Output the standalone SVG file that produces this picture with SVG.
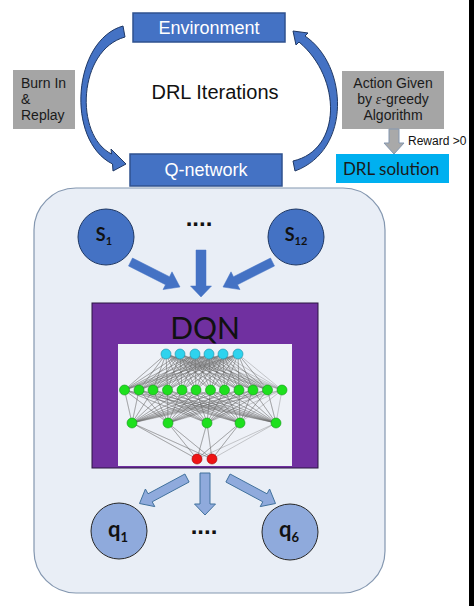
<svg xmlns="http://www.w3.org/2000/svg" width="474" height="606" viewBox="0 0 474 606">
<style>
.sans{font-family:"Liberation Sans",Arial,sans-serif}
.cal{font-family:Lato,"Liberation Sans",sans-serif}
.bluebox{fill:#4472C4;stroke:#2F528F;stroke-width:1.5}
.graybox{fill:#A5A5A5}
.wt{fill:#fff;font-size:18px;text-anchor:middle}
.gt{fill:#1a1a1a;font-size:14px}
.curve{fill:#4472C4;stroke:#1F3864;stroke-width:1}
.barrow{fill:#4472C4;stroke:#4472C4;stroke-width:0.5}
.larrow{fill:#8FAADC;stroke:#41719C;stroke-width:1}
.scirc{fill:#4472C4;stroke:#1F3864;stroke-width:1}
.qcirc{fill:#8FAADC;stroke:#262626;stroke-width:1}
.ntext{fill:#111;font-weight:bold;text-anchor:middle}
.edge{fill:none;stroke:#6b6b6b;stroke-width:0.45;stroke-opacity:0.75}
.cy{fill:#2ED3EE;stroke:#1B8DA3;stroke-width:0.6}
.gr{fill:#1EE01E;stroke:#12971A;stroke-width:0.6}
.rd{fill:#EE1414;stroke:#A00000;stroke-width:0.6}
.dots{fill:#111;font-weight:bold;font-size:24px;text-anchor:middle}
</style>
<rect x="0" y="0" width="474" height="606" fill="#fff"/>
<rect x="469" y="0" width="5" height="606" fill="#000"/>

<g id="container">
<rect x="34" y="188" width="351" height="405" rx="42" fill="#E9EEF6" stroke="#8497B0" stroke-width="1.2"/>
</g>

<g id="environment">
<rect class="bluebox" x="133" y="13" width="152" height="29"/>
<text class="sans wt" x="209" y="34">Environment</text>
</g>

<g id="q-network">
<rect class="bluebox" x="130" y="154" width="152" height="32"/>
<text class="sans wt" x="206" y="176">Q-network</text>
</g>

<g id="drl-iterations">
<text class="sans" x="215" y="99" font-size="20" fill="#111" text-anchor="middle">DRL Iterations</text>
</g>

<g id="burn-in">
<rect class="graybox" x="13" y="70" width="62" height="59"/>
<text class="sans gt" x="21" y="88">Burn In</text>
<text class="sans gt" x="21" y="104">&amp;</text>
<text class="sans gt" x="21" y="120">Replay</text>
</g>

<g id="action-given">
<rect class="graybox" x="342" y="71" width="102" height="58"/>
<text class="sans gt" x="393" y="88" text-anchor="middle">Action Given</text>
<text class="sans gt" x="393" y="104" text-anchor="middle">by <tspan font-family="'Liberation Serif',serif" font-style="italic">ε</tspan>-greedy</text>
<text class="sans gt" x="393" y="120" text-anchor="middle">Algorithm</text>
</g>

<g id="drl-solution">
<rect x="336" y="154" width="113" height="29" fill="#00B0F0"/>
<text class="cal" x="391" y="175" font-size="17" fill="#1a1a1a" text-anchor="middle">DRL solution</text>
</g>

<g id="connectors">
<path class="curve" d="M123,26 C73,40 65,140 112.5,164 L113,171 L126,164 L111,149 L111.5,154 C74,135 78,50 125,37 Z"/>
<path class="curve" d="M295,171 C352,150 348,65 305,36 L308,33 L293,31 L296,45 L299,42 C342,78 342,150 293,161 Z"/>
<polygon points="389,129 399,129 399,143 404,143 394,154 384,143 389,143" fill="#A9A9A9" stroke="#8497B0" stroke-width="1"/>
<text class="sans" x="408" y="145" font-size="12" fill="#111">Reward &gt;0</text>
<polygon class="barrow" points="128.5,266 165.5,284.7 163,289.6 180,287 172,271.8 169.5,276.7 132.5,258"/>
<polygon class="barrow" points="196,250 206,250 206,286 211.5,286 201,297 190.5,286 196,286"/>
<polygon class="barrow" points="274.5,266 237.5,284.7 240,289.6 223,287 231,271.8 233.5,276.7 270.5,258"/>
<polygon class="larrow" points="189.1,482 152.2,501.8 154.8,506.6 139.5,503.5 145.4,489 148,493.8 184.9,474"/>
<polygon class="larrow" points="200,473 210,473 210,504 215.5,504 205,515 194.5,504 200,504"/>
<polygon class="larrow" points="225.9,482 262.8,501.8 260.2,506.6 275.5,503.5 269.6,489 267,493.8 230.1,474"/>
</g>

<g id="s1">
<circle class="scirc" cx="106" cy="237" r="28"/>
<text class="cal ntext" x="104" y="241" font-size="18">S<tspan dy="4" font-size="11">1</tspan></text>
</g>
<g id="s-dots">
<text class="sans dots" x="199" y="226">....</text>
</g>
<g id="s12">
<circle class="scirc" cx="296" cy="237" r="28"/>
<text class="cal ntext" x="296" y="241" font-size="18">S<tspan dy="4" font-size="11">12</tspan></text>
</g>

<g id="dqn">
<rect x="92" y="303" width="226" height="165" fill="#7030A0" stroke="#2A1540" stroke-width="1"/>
<text class="cal" x="205" y="339" font-size="30" fill="#111" text-anchor="middle">DQN</text>
<rect x="118" y="344" width="174" height="122" fill="#EEF1F7"/>
<path class="edge" d="M166 354 124.5 390 166 354 139 390 166 354 153 390 166 354 167.5 390 166 354 182 390 166 354 196 390 166 354 210.5 390 166 354 224.5 390 166 354 239 390 166 354 253 390 166 354 267.5 390 166 354 282 390
M180 354 124.5 390 180 354 139 390 180 354 153 390 180 354 167.5 390 180 354 182 390 180 354 196 390 180 354 210.5 390 180 354 224.5 390 180 354 239 390 180 354 253 390 180 354 267.5 390 180 354 282 390
M195 354 124.5 390 195 354 139 390 195 354 153 390 195 354 167.5 390 195 354 182 390 195 354 196 390 195 354 210.5 390 195 354 224.5 390 195 354 239 390 195 354 253 390 195 354 267.5 390 195 354 282 390
M209 354 124.5 390 209 354 139 390 209 354 153 390 209 354 167.5 390 209 354 182 390 209 354 196 390 209 354 210.5 390 209 354 224.5 390 209 354 239 390 209 354 253 390 209 354 267.5 390 209 354 282 390
M223 354 124.5 390 223 354 139 390 223 354 153 390 223 354 167.5 390 223 354 182 390 223 354 196 390 223 354 210.5 390 223 354 224.5 390 223 354 239 390 223 354 253 390 223 354 267.5 390 223 354 282 390
M238 354 124.5 390 238 354 139 390 238 354 153 390 238 354 167.5 390 238 354 182 390 238 354 196 390 238 354 210.5 390 238 354 224.5 390 238 354 239 390 238 354 253 390 238 354 267.5 390 238 354 282 390
M132 423 124.5 390 132 423 139 390 132 423 153 390 132 423 167.5 390 132 423 182 390 132 423 196 390 132 423 210.5 390 132 423 224.5 390 132 423 239 390 132 423 253 390 132 423 267.5 390 132 423 282 390
M168 423 124.5 390 168 423 139 390 168 423 153 390 168 423 167.5 390 168 423 182 390 168 423 196 390 168 423 210.5 390 168 423 224.5 390 168 423 239 390 168 423 253 390 168 423 267.5 390 168 423 282 390
M207 423 124.5 390 207 423 139 390 207 423 153 390 207 423 167.5 390 207 423 182 390 207 423 196 390 207 423 210.5 390 207 423 224.5 390 207 423 239 390 207 423 253 390 207 423 267.5 390 207 423 282 390
M240 423 124.5 390 240 423 139 390 240 423 153 390 240 423 167.5 390 240 423 182 390 240 423 196 390 240 423 210.5 390 240 423 224.5 390 240 423 239 390 240 423 253 390 240 423 267.5 390 240 423 282 390
M276 423 124.5 390 276 423 139 390 276 423 153 390 276 423 167.5 390 276 423 182 390 276 423 196 390 276 423 210.5 390 276 423 224.5 390 276 423 239 390 276 423 253 390 276 423 267.5 390 276 423 282 390
M197 459 132 423 197 459 168 423 197 459 207 423 197 459 240 423 197 459 276 423
M212 459 132 423 212 459 168 423 212 459 207 423 212 459 240 423 212 459 276 423"/>
<g class="cy">
<circle cx="166" cy="354" r="5"/><circle cx="180" cy="354" r="5"/><circle cx="195" cy="354" r="5"/><circle cx="209" cy="354" r="5"/><circle cx="223" cy="354" r="5"/><circle cx="238" cy="354" r="5"/>
</g>
<g class="gr">
<circle cx="124.5" cy="390" r="5"/><circle cx="139" cy="390" r="5"/><circle cx="153" cy="390" r="5"/><circle cx="167.5" cy="390" r="5"/><circle cx="182" cy="390" r="5"/><circle cx="196" cy="390" r="5"/><circle cx="210.5" cy="390" r="5"/><circle cx="224.5" cy="390" r="5"/><circle cx="239" cy="390" r="5"/><circle cx="253" cy="390" r="5"/><circle cx="267.5" cy="390" r="5"/><circle cx="282" cy="390" r="5"/>
<circle cx="132" cy="423" r="5"/><circle cx="168" cy="423" r="5"/><circle cx="207" cy="423" r="5"/><circle cx="240" cy="423" r="5"/><circle cx="276" cy="423" r="5"/>
</g>
<g class="rd">
<circle cx="197" cy="459" r="5"/><circle cx="212" cy="459" r="5"/>
</g>
</g>

<g id="q1">
<circle class="qcirc" cx="119" cy="531" r="28"/>
<text class="cal ntext" x="118" y="537" font-size="22">q<tspan dy="5" font-size="13">1</tspan></text>
</g>
<g id="q-dots">
<text class="sans dots" x="204" y="534">....</text>
</g>
<g id="q6">
<circle class="qcirc" cx="290" cy="532" r="28"/>
<text class="cal ntext" x="289" y="537" font-size="22">q<tspan dy="5" font-size="13">6</tspan></text>
</g>
</svg>
